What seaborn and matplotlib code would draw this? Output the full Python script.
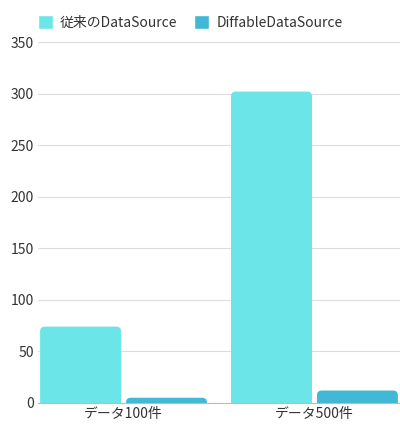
import numpy as np
import pandas as pd
import matplotlib
matplotlib.use("Agg")
import matplotlib.pyplot as plt
import seaborn as sns
from matplotlib.patches import FancyBboxPatch

categories = ['データ100件', 'データ500件']
series_names = ['従来のDataSource', 'DiffableDataSource']
legacy_values = [74, 302]
diffable_values = [5, 12]
colors = ['#6ce5e8', '#41b8d5']

sns.set_style('white')
plt.rcParams['font.family'] = ['Noto Sans CJK JP', 'DejaVu Sans']

df = pd.DataFrame({
    'category': categories * 2,
    'series': [series_names[0]] * 2 + [series_names[1]] * 2,
    'value': legacy_values + diffable_values,
})

fig = plt.figure(figsize=(4.0, 4.25), dpi=100)
ax = fig.add_axes([0.095, 0.052, 0.905, 0.849])
sns.barplot(data=df, x='category', y='value', hue='series', palette=colors,
            width=0.9, ax=ax, legend=True, saturation=1)

ax.set_xlim(-0.448, 1.448)
ax.set_ylim(0, 350)

# swap rectangles for rounded ones with a small gap
gap = 0.013
aspect = (350 / 361) / (1.896 / 362)
for p in list(ax.patches):
    x, y, w, h = p.get_x(), p.get_y(), p.get_width(), p.get_height()
    if h <= 0:
        continue
    fc = p.get_facecolor()
    p.set_visible(False)
    ax.add_patch(FancyBboxPatch((x + gap, -6), w - 2 * gap, h + 6,
                                boxstyle='round,pad=0,rounding_size=0.025',
                                mutation_aspect=aspect, fc=fc, ec='none',
                                zorder=2, clip_on=True))

ax.set_yticks(range(0, 351, 50))
ax.yaxis.grid(True, color='#dddddd', lw=0.8)
ax.set_axisbelow(True)
for s in ['top', 'right', 'left']:
    ax.spines[s].set_visible(False)
ax.spines['bottom'].set_color('#bbbbbb')
ax.tick_params(axis='both', length=0, labelsize=10, colors='#333333', pad=3)
ax.set_xlabel('')
ax.set_ylabel('')

ax.legend(loc='lower center', bbox_to_anchor=(0.42, 1.0), ncol=2, frameon=False,
          fontsize=10, handlelength=1.1, handleheight=1.1, columnspacing=1.2,
          handletextpad=0.5, labelcolor='#333333')

fig.savefig('out.png', dpi=100)
